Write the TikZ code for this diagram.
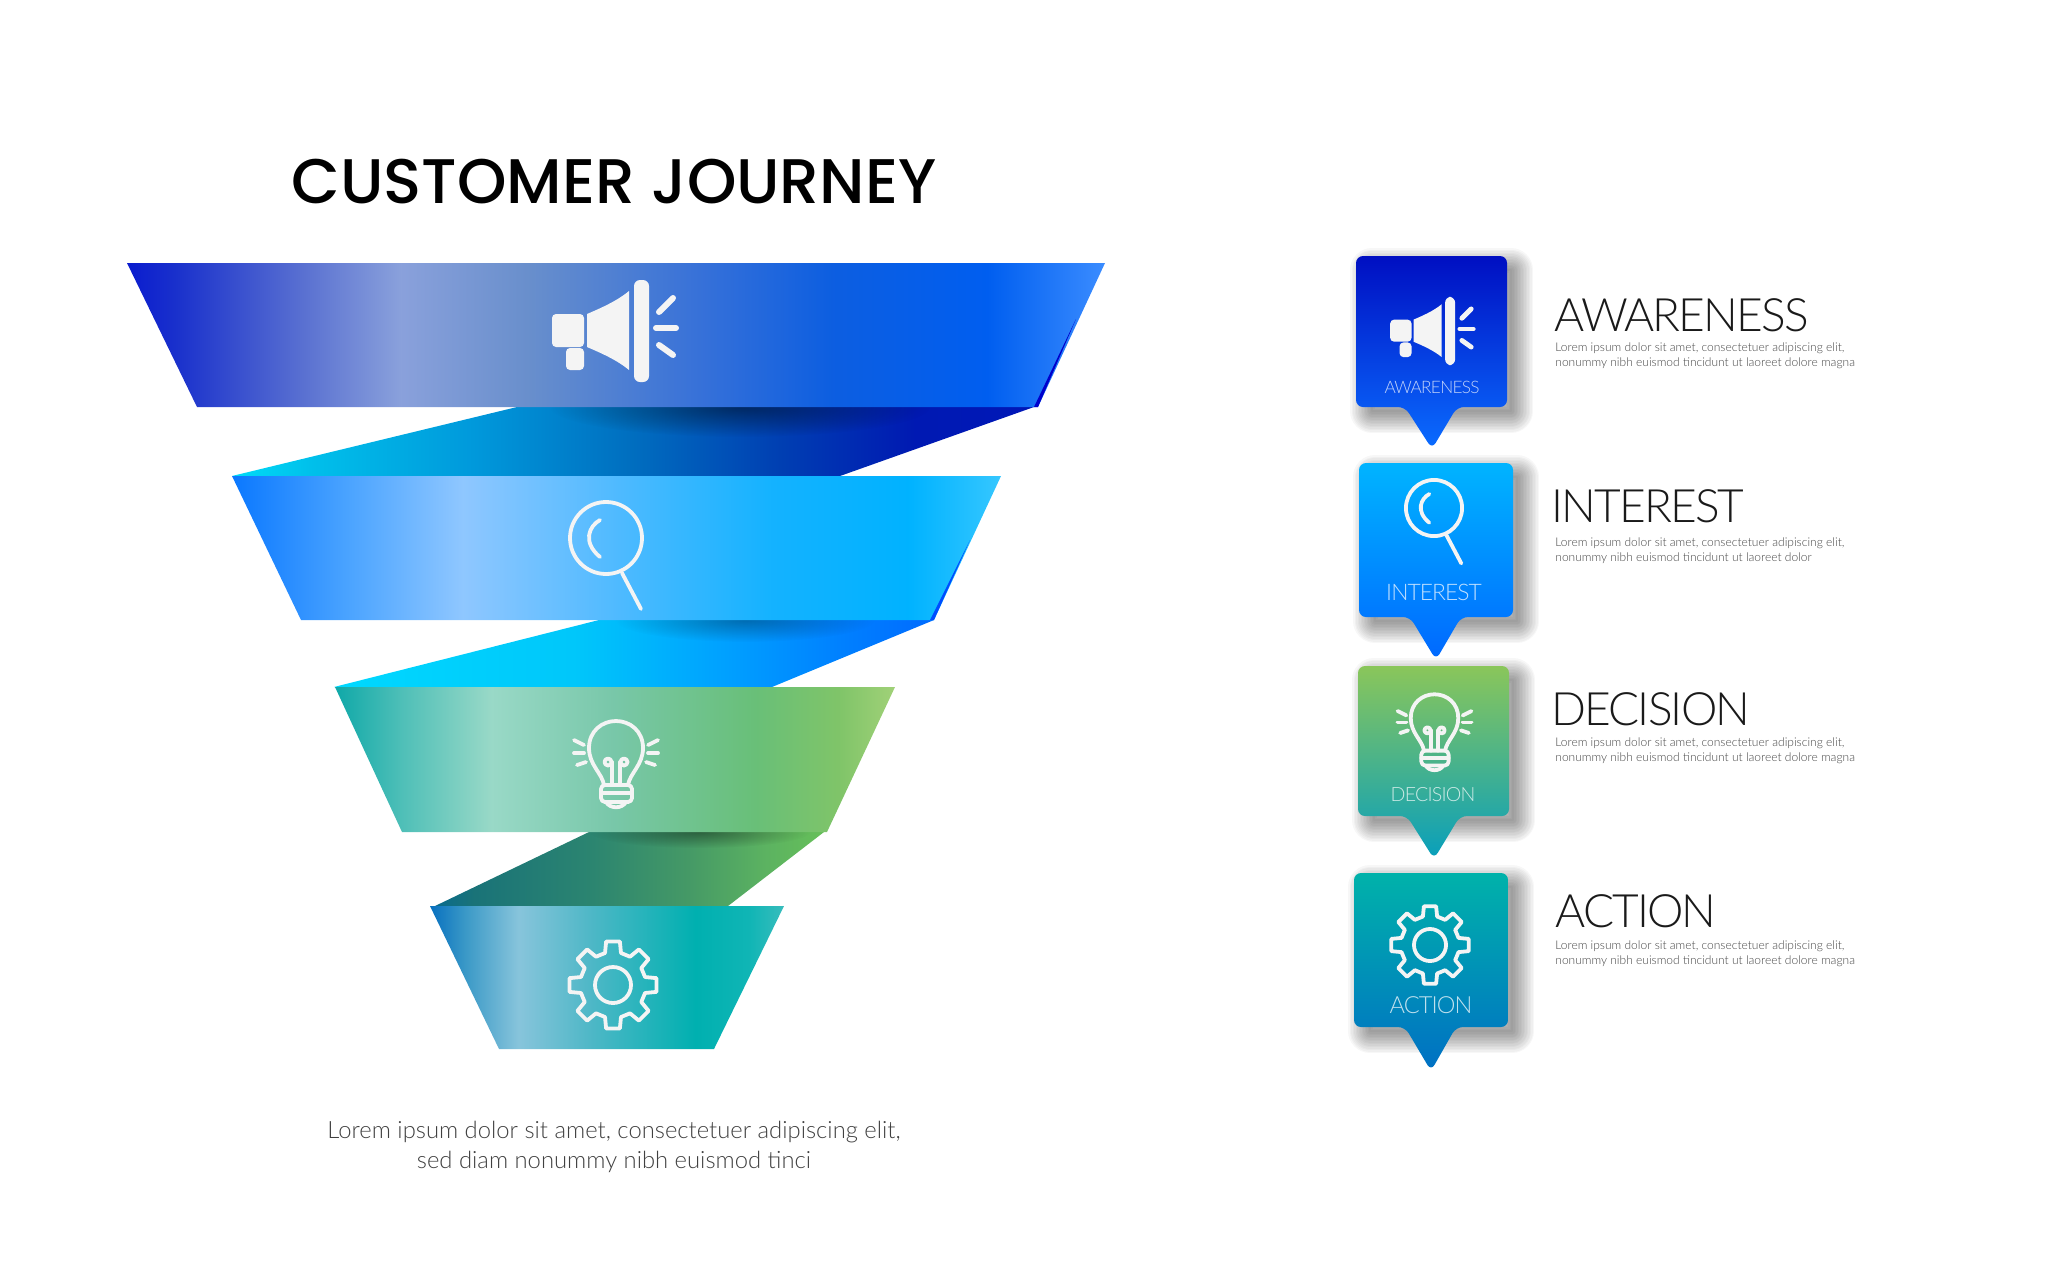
\documentclass[tikz,border=0pt]{standalone}
\usepackage{fontspec}
\usetikzlibrary{fadings}
\setmainfont{Liberation Sans}
\newfontfamily\thinfont{Lato}[UprightFont=* Light]
\newfontfamily\headfont{Lato}[UprightFont=* Light, LetterSpace=-4]
\newfontfamily\titlefont{Poppins}[UprightFont=* Medium]

% 漏斗各层的渐变
\pgfdeclarehorizontalshading{bandone}{100bp}{rgb(0bp)=(.04,.11,.81); rgb(25bp)=(.04,.11,.81); rgb(27.5bp)=(.10,.19,.80); rgb(34bp)=(.35,.44,.82); rgb(39bp)=(.54,.63,.86); rgb(45.5bp)=(.41,.56,.80); rgb(54.5bp)=(.21,.44,.85); rgb(61bp)=(.05,.37,.88); rgb(69bp)=(0,.37,.94); rgb(75bp)=(.23,.55,1); rgb(100bp)=(.23,.55,1)}
\pgfdeclarehorizontalshading{bandtwo}{100bp}{rgb(0bp)=(.04,.47,1); rgb(25bp)=(.04,.47,1); rgb(32.5bp)=(.29,.64,1); rgb(40bp)=(.56,.78,1); rgb(50bp)=(.31,.73,1); rgb(60bp)=(.08,.70,1); rgb(69bp)=(0,.70,1); rgb(75bp)=(.21,.78,1); rgb(100bp)=(.21,.78,1)}
\pgfdeclarehorizontalshading{bandthree}{100bp}{rgb(0bp)=(.06,.66,.66); rgb(25bp)=(.06,.66,.66); rgb(31bp)=(.31,.75,.72); rgb(39bp)=(.60,.85,.78); rgb(50bp)=(.47,.78,.66); rgb(62.5bp)=(.41,.75,.47); rgb(70bp)=(.50,.77,.41); rgb(75bp)=(.63,.82,.47); rgb(100bp)=(.63,.82,.47)}
\pgfdeclarehorizontalshading{bandfour}{100bp}{rgb(0bp)=(.03,.44,.75); rgb(25bp)=(.03,.44,.75); rgb(30bp)=(.23,.60,.78); rgb(37.5bp)=(.53,.77,.86); rgb(47.5bp)=(.31,.72,.78); rgb(62.5bp)=(0,.69,.69); rgb(70bp)=(.06,.71,.71); rgb(75bp)=(.22,.74,.74); rgb(100bp)=(.22,.74,.74)}
\pgfdeclarehorizontalshading{foldone}{100bp}{rgb(0bp)=(0,.86,.97); rgb(25bp)=(0,.86,.97); rgb(30bp)=(0,.75,.92); rgb(40bp)=(0,.60,.86); rgb(50bp)=(0,.43,.75); rgb(59bp)=(0,.25,.70); rgb(67.5bp)=(0,.10,.70); rgb(75bp)=(0,.09,.72); rgb(100bp)=(0,.09,.72)}
\pgfdeclarehorizontalshading{foldtwo}{100bp}{rgb(0bp)=(0,.85,1); rgb(25bp)=(0,.85,1); rgb(45bp)=(0,.78,.98); rgb(57.5bp)=(0,.63,1); rgb(67.5bp)=(0,.50,1); rgb(75bp)=(0,.42,1); rgb(100bp)=(0,.42,1)}
\pgfdeclarehorizontalshading{foldthree}{100bp}{rgb(0bp)=(.04,.42,.55); rgb(25bp)=(.04,.42,.55); rgb(30bp)=(.10,.45,.47); rgb(45bp)=(.17,.52,.44); rgb(57.5bp)=(.27,.60,.40); rgb(67.5bp)=(.36,.70,.38); rgb(75bp)=(.40,.75,.35); rgb(100bp)=(.40,.75,.35)}
\tikzfading[name=foldfade, inner color=transparent!25, outer color=transparent!100]

\definecolor{iconwhite}{HTML}{F4F4F4}
\definecolor{bodygray}{HTML}{444444}
\definecolor{headblack}{HTML}{1A1A1A}
\tikzset{
  iconline/.style={draw=iconwhite, line width=1.9pt, line cap=round, line join=round},
  iconfill/.style={fill=iconwhite, rounded corners=2pt},
  heading/.style={anchor=base west, inner sep=0pt, text=headblack, font=\headfont\fontsize{23}{28}\selectfont},
  bodytext/.style={anchor=base west, inner sep=0pt, align=left, text=bodygray, font=\thinfont\fontsize{6}{7.5}\selectfont},
  badgelabel/.style={anchor=base, inner sep=0pt, text=white, text opacity=.75, font=\headfont\fontsize{#1}{#1}\selectfont},
  badgebody/.style={rounded corners=3.5pt}
}

% 图标：喇叭
\newcommand{\megaphoneicon}[3]{%
\begin{scope}[shift={(#1)},scale=#2]
  \fill[iconfill] (-61,-17) rectangle (-29,16);
  \fill[iconfill] (-47,17) rectangle (-29,39);
  \fill[iconwhite] (-26,-17) .. controls (-12,-23) and (4,-30) .. (16,-40) -- (16,39) .. controls (4,29) and (-12,22) .. (-26,16) -- cycle;
  \fill[iconfill, rounded corners=3pt] (21,-51) rectangle (36,51);
  \draw[iconwhite, line width=#3pt, line cap=round] (46,-19) -- (60,-33);
  \draw[iconwhite, line width=#3pt, line cap=round] (43,-3) -- (63,-3);
  \draw[iconwhite, line width=#3pt, line cap=round] (46,14) -- (60,24);
\end{scope}}

% 图标：放大镜
\newcommand{\magnifiericon}[2]{%
\begin{scope}[shift={(#1)},scale=#2]
  \draw[iconline] (0,0) circle[radius=36];
  \draw[iconline] (16,35) -- (35,71);
  \draw[iconline] (-6,-18) .. controls (-17,-12) and (-24,4) .. (-6,19);
\end{scope}}

% 图标：灯泡
\newcommand{\bulbicon}[2]{%
\begin{scope}[shift={(#1)},scale=#2]
  \draw[iconline] (-12,20) .. controls (-14,8) and (-27,0) .. (-27,-17) .. controls (-27,-34) and (-14,-44) .. (0,-44) .. controls (14,-44) and (27,-34) .. (27,-17) .. controls (27,0) and (14,8) .. (12,20);
  \draw[iconline, rounded corners=2pt] (-15,20) rectangle (16,37);
  \draw[iconline] (-15,28) -- (16,28);
  \draw[iconline] (-10,37) .. controls (-6,44) and (6,44) .. (10,37);
  \draw[iconline] (-8,-3) circle[radius=3.5];
  \draw[iconline] (8,-3) circle[radius=3.5];
  \draw[iconline] (-4,-3) -- (-4,20);
  \draw[iconline] (4,-3) -- (4,20);
  \draw[iconline] (-42,-25) -- (-32,-20);
  \draw[iconline] (-42,-12) -- (-32,-12);
  \draw[iconline] (-39,0) -- (-30,-3);
  \draw[iconline] (42,-25) -- (32,-20);
  \draw[iconline] (42,-12) -- (32,-12);
  \draw[iconline] (39,0) -- (30,-3);
\end{scope}}

% 图标：齿轮
\newcommand{\gearicon}[2]{%
\begin{scope}[shift={(#1)},scale=#2]
  \draw[iconline] (-14:33) \foreach \a in {0,45,...,315} { -- (\a-9:44) -- (\a+9:44) -- (\a+14:33) -- (\a+31:33) } -- cycle;
  \draw[iconline] (0,0) circle[radius=18];
\end{scope}}

% 气泡下方的阴影
\newcommand{\boxshadow}[2]{%
  \foreach \w in {44,41,...,2} {
    \draw[black, opacity=.03, line width=\w*.5pt, line join=round] (#1) rectangle (#2);
  }}

\begin{document}
\begin{tikzpicture}[x=0.5pt,y=-0.5pt]
    \useasboundingbox (0,0) rectangle (2048,1280);

    % 标题
    \node[inner sep=0pt, anchor=base, text=black, font=\titlefont\fontsize{31.5}{36}\selectfont] (title) at (614,203) {CUSTOMER JOURNEY};

    % 折叠部分
    \shade[shading=foldone] (517,407) -- (1034,407) -- (840,476) -- (232,476) -- cycle;
    \shade[shading=foldtwo] (599,620) -- (934,620) -- (772,687) -- (334,687) -- cycle;
    \shade[shading=foldthree] (589,832) -- (824,832) -- (728,906) -- (435,906) -- cycle;
    \begin{scope}
        \clip (517,407) -- (1034,407) -- (840,476) -- (232,476) -- cycle;
        \fill[black, opacity=.6, path fading=foldfade] (740,407) ellipse (190 and 30);
    \end{scope}
    \begin{scope}
        \clip (599,620) -- (934,620) -- (772,687) -- (334,687) -- cycle;
        \fill[black, opacity=.4, path fading=foldfade] (745,620) ellipse (130 and 22);
    \end{scope}
    \begin{scope}
        \clip (589,832) -- (824,832) -- (728,906) -- (435,906) -- cycle;
        \fill[black, opacity=.5, path fading=foldfade] (700,832) ellipse (110 and 16);
    \end{scope}

    % 漏斗四层
    \shade[shading=bandone] (127,263) -- (1105,263) -- (1038,407) -- (197,407) -- cycle;
    \shade[shading=bandtwo] (232,476) -- (1001,476) -- (934,620) -- (301,620) -- cycle;
    \shade[shading=bandthree] (335,687) -- (895,687) -- (827,832) -- (402,832) -- cycle;
    \shade[shading=bandfour] (430,906) -- (784,906) -- (714,1049) -- (499,1049) -- cycle;
    \fill[black!20!blue] (1076,319) -- (1038,407) -- (1034,407) -- cycle;
    \fill[blue!70!cyan] (970,540) -- (934,620) -- (930,620) -- cycle;

    % 漏斗上的图标
    \megaphoneicon{613,331}{1}{3}
    \magnifiericon{606,538}{1}
    \bulbicon{616,765}{1}
    \gearicon{613,985}{1}

    % 下方文字
    \node[inner sep=0pt, anchor=base, align=center, text=black!75, font=\thinfont\fontsize{11.9}{15}\selectfont] (note) at (614,1168) {Lorem ipsum dolor sit amet, consectetuer adipiscing elit,\\sed diam nonummy nibh euismod tinci};

    % 右侧：气泡
    \definecolor{ctopa}{HTML}{000FC2}
    \definecolor{cbota}{HTML}{0A6CFF}
    \definecolor{ctopb}{HTML}{00B4FF}
    \definecolor{cbotb}{HTML}{0068FF}
    \definecolor{ctopc}{HTML}{8AC65A}
    \definecolor{cmidc}{HTML}{3DB193}
    \definecolor{cbotc}{HTML}{089FBC}
    \definecolor{ctopd}{HTML}{00B2AA}
    \definecolor{cbotd}{HTML}{0070C4}

    \boxshadow{1372,270}{1511,411}
    \shade[badgebody, top color=ctopa, bottom color=cbota] (1356,256) -- (1507,256) -- (1507,407) -- (1457,407) -- (1432,449) -- (1405,407) -- (1356,407) -- cycle;
    \megaphoneicon{1431,331}{.67}{2.4}
    \node[badgelabel=8.6] (labelA) at (1432,393) {AWARENESS};

    \boxshadow{1375,477}{1517,621}
    \shade[badgebody, top color=ctopb, bottom color=cbotb] (1359,463) -- (1513,463) -- (1513,617) -- (1461,617) -- (1436,660) -- (1410,617) -- (1359,617) -- cycle;
    \magnifiericon{1434,508}{.78}
    \node[badgelabel=11.4] (labelB) at (1434,600) {INTEREST};

    \boxshadow{1374,680}{1513,820}
    \shade[badgebody, top color=ctopc, middle color=cmidc, bottom color=cbotc] (1358,666) -- (1509,666) -- (1509,816) -- (1460,816) -- (1434,859) -- (1407,816) -- (1358,816) -- cycle;
    \bulbicon{1434.5,733}{.88}
    \node[badgelabel=9.8] (labelC) at (1433,801) {DECISION};

    \boxshadow{1370,887}{1512,1031}
    \shade[badgebody, top color=ctopd, bottom color=cbotd] (1354,873) -- (1508,873) -- (1508,1027) -- (1456,1027) -- (1431,1071) -- (1405,1027) -- (1354,1027) -- cycle;
    \gearicon{1430,945}{.89}
    \node[badgelabel=11.8] (labelD) at (1431,1013) {ACTION};

    % 右侧：文字
    \node[heading] (headA) at (1554,331) {AWARENESS};
    \node[bodytext] (bodyA) at (1555,366) {Lorem ipsum dolor sit amet, consectetuer adipiscing elit,\\nonummy nibh euismod tincidunt ut laoreet dolore magna};
    \node[heading] (headB) at (1551,522) {INTEREST};
    \node[bodytext] (bodyB) at (1555,561) {Lorem ipsum dolor sit amet, consectetuer adipiscing elit,\\nonummy nibh euismod tincidunt ut laoreet dolor};
    \node[heading] (headC) at (1551,725) {DECISION};
    \node[bodytext] (bodyC) at (1555,761) {Lorem ipsum dolor sit amet, consectetuer adipiscing elit,\\nonummy nibh euismod tincidunt ut laoreet dolore magna};
    \node[heading] (headD) at (1555,927) {ACTION};
    \node[bodytext] (bodyD) at (1555,964) {Lorem ipsum dolor sit amet, consectetuer adipiscing elit,\\nonummy nibh euismod tincidunt ut laoreet dolore magna};
\end{tikzpicture}
\end{document}
